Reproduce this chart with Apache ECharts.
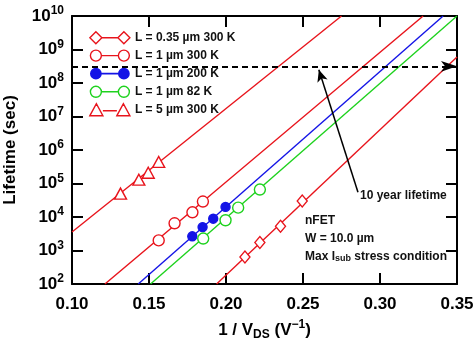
<!DOCTYPE html>
<html><head><meta charset="utf-8">
<script src="https://cdn.jsdelivr.net/npm/echarts/dist/echarts.min.js"></script>
<style>html,body{margin:0;padding:0;background:#fff}#c{width:474px;height:338px}</style>
</head><body><div id="c"></div>
<script>
// ---- data ----
const xTicks = [0.10, 0.15, 0.20, 0.25, 0.30, 0.35];
const yTickExponents = [2, 3, 4, 5, 6, 7, 8, 9, 10];
const seriesNames = ['L = 0.35 \u00b5m 300 K', 'L = 1 \u00b5m 300 K', 'L = 1 \u00b5m 200 K', 'L = 1 \u00b5m 82 K', 'L = 5 \u00b5m 300 K'];

// measured points (x = 1/VDS, y = lifetime in sec)
const x035_300 = [0.2123, 0.2220, 0.2354, 0.2495];
const y035_300 = [640, 1730, 5300, 30000];
const x1_300 = [0.1563, 0.1666, 0.1782, 0.1850];
const y1_300 = [2000, 6500, 13800, 29000];
const x1_200 = [0.1781, 0.1848, 0.1917, 0.1997];
const y1_200 = [2650, 5000, 8900, 20000];
const x1_82 = [0.1852, 0.1997, 0.2079, 0.2220];
const y1_82 = [2270, 8000, 19000, 66000];
const x5_300 = [0.1315, 0.1434, 0.1495, 0.1563];
const y5_300 = [50000, 130000, 210000, 440000];

// fitted lines: endpoints
const fitX035 = [0.1939, 0.35];   const fitY035 = [100, 6.0e8];
const fitX1_300 = [0.1214, 0.328]; const fitY1_300 = [100, 1e10];
const fitX1_200 = [0.143, 0.341];  const fitY1_200 = [100, 1e10];
const fitX1_82 = [0.151, 0.35];    const fitY1_82 = [100, 1e10];
const fitX5_300 = [0.10, 0.275];   const fitY5_300 = [3550, 1e10];

// 10-year lifetime reference and arrow
const tenYears = 3.15e8;
const arrowX = [0.2857, 0.2603];
const arrowY = [55000, 2.5e8];

// ---- chart ----
const RED = '#e8141c', BLUE = '#1414e6', GREEN = '#1ed21e';
const FONT = '"Liberation Sans", Arial, Helvetica, sans-serif';
const zip = (a, b) => a.map((v, i) => [v, b[i]]);

function scatter(name, xs, ys, symbol, size, color, filled) {
  return {
    type: 'scatter', name, data: zip(xs, ys), symbol, symbolSize: size, z: 5,
    itemStyle: { color: filled ? color : '#fff', borderColor: color, borderWidth: 1.4, opacity: 1 },
    silent: true
  };
}
function fit(name, xs, ys, color, extra) {
  return Object.assign({
    type: 'line', name, data: zip(xs, ys), showSymbol: false, symbol: 'none', z: 3,
    lineStyle: { color, width: 1.4 }, silent: true
  }, extra || {});
}

const iconDiamond = 'path://M0,6 L6,0 L12,6 L6,12 Z M12,6 L28,6 M28,6 L34,0 L40,6 L34,12 Z';
const iconCircle = 'path://M0.5,6 A5.5,5.5 0 1 1 11.5,6 A5.5,5.5 0 1 1 0.5,6 Z M11.5,6 L28.5,6 M28.5,6 A5.5,5.5 0 1 1 39.5,6 A5.5,5.5 0 1 1 28.5,6 Z M0,0 L0,0.01 M40,12 L40,12.01';
const iconDot = 'path://M1,6 A5,5 0 1 1 11,6 A5,5 0 1 1 1,6 Z M11,6 L29,6 M29,6 A5,5 0 1 1 39,6 A5,5 0 1 1 29,6 Z M0,0 L0,0.01 M40,12 L40,12.01';
const iconTri = 'path://M0,12 L6.5,0 L13,12 Z M13,7 L27,7 M27,12 L33.5,0 L40,12 Z';

const chart = echarts.init(document.getElementById('c'), null, { renderer: 'canvas' });
const axisLine = { show: true, onZero: false, lineStyle: { color: '#000', width: 2 } };
const tick = { show: true, inside: true, length: 11, lineStyle: { color: '#000', width: 2 } };

chart.setOption({
  animation: false,
  backgroundColor: '#fff',
  grid: { left: 72, right: 17, top: 16, bottom: 54, containLabel: false, outerBoundsMode: 'none' },
  xAxis: [{
    type: 'value', min: xTicks[0], max: xTicks[xTicks.length - 1], interval: 0.05,
    axisLine, axisTick: tick, splitLine: { show: false },
    axisLabel: { margin: 12, color: '#000', fontSize: 17, fontWeight: 'bold', fontFamily: FONT,
      formatter: v => v.toFixed(2) },
    name: '1 / V{sub|DS} (V{sup|\u22121})', nameLocation: 'middle', nameGap: 35,
    nameTextStyle: { color: '#000', fontSize: 17, fontWeight: 'bold', fontFamily: FONT, lineHeight: 22,
      rich: {
        sub: { fontSize: 12, fontWeight: 'bold', fontFamily: FONT, verticalAlign: 'bottom', lineHeight: 14, color: '#000' },
        sup: { fontSize: 12, fontWeight: 'bold', fontFamily: FONT, verticalAlign: 'top', lineHeight: 12, color: '#000' }
      } }
  }, {
    type: 'value', position: 'top', min: xTicks[0], max: xTicks[xTicks.length - 1], interval: 0.05,
    axisLine, axisTick: tick, axisLabel: { show: false }, splitLine: { show: false }
  }],
  yAxis: [{
    type: 'log', logBase: 10, min: Math.pow(10, yTickExponents[0]), max: Math.pow(10, yTickExponents[yTickExponents.length - 1]),
    interval: 1, axisLine, axisTick: tick, splitLine: { show: false }, minorTick: { show: false },
    axisLabel: { margin: 8, color: '#000', fontFamily: FONT,
      formatter: v => '{b|10}{s|' + Math.round(Math.log10(v)) + '}',
      rich: {
        b: { fontSize: 17, fontWeight: 'bold', fontFamily: FONT, color: '#000', lineHeight: 22 },
        s: { fontSize: 12, fontWeight: 'bold', fontFamily: FONT, color: '#000', verticalAlign: 'top', lineHeight: 12 }
      } },
    name: 'Lifetime (sec)', nameLocation: 'middle', nameGap: 53,
    nameTextStyle: { color: '#000', fontSize: 17, fontWeight: 'bold', fontFamily: FONT }
  }, {
    type: 'log', logBase: 10, position: 'right', min: Math.pow(10, yTickExponents[0]), max: Math.pow(10, yTickExponents[yTickExponents.length - 1]),
    interval: 1, axisLine, axisTick: tick, axisLabel: { show: false }, splitLine: { show: false }
  }],
  legend: {
    orient: 'vertical', left: 89, top: 31, padding: 0, itemWidth: 40, itemHeight: 12, itemGap: 4.5,
    selectedMode: false,
    textStyle: { fontSize: 12, fontWeight: 'bold', fontFamily: FONT, color: '#111', lineHeight: 12 },
    data: [
      { name: seriesNames[0], icon: iconDiamond, itemStyle: { color: '#fff', borderColor: RED, borderWidth: 1.4 } },
      { name: seriesNames[1], icon: iconCircle, itemStyle: { color: '#fff', borderColor: RED, borderWidth: 1.4 } },
      { name: seriesNames[2], icon: iconDot, itemStyle: { color: BLUE, borderColor: BLUE, borderWidth: 1.8 } },
      { name: seriesNames[3], icon: iconCircle, itemStyle: { color: '#fff', borderColor: GREEN, borderWidth: 1.4 } },
      { name: seriesNames[4], icon: iconTri, itemStyle: { color: '#fff', borderColor: RED, borderWidth: 1.4 } }
    ]
  },
  series: [
    fit(seriesNames[0], fitX035, fitY035, RED),
    fit(seriesNames[1], fitX1_300, fitY1_300, RED),
    fit(seriesNames[2], fitX1_200, fitY1_200, BLUE),
    fit(seriesNames[3], fitX1_82, fitY1_82, GREEN),
    fit(seriesNames[4], fitX5_300, fitY5_300, RED, {
      markLine: {
        silent: true, animation: false, label: { show: false },
        data: [
          { yAxis: tenYears, symbol: 'none', lineStyle: { color: '#000', width: 2, type: [6, 4] } },
          [ { coord: [arrowX[0], arrowY[0]], symbol: 'none', lineStyle: { color: '#000', width: 1.5, type: 'solid' } },
            { coord: [arrowX[1], arrowY[1]], symbol: 'arrow', symbolSize: [8, 12] } ]
        ]
      }
    }),
    scatter(seriesNames[0], x035_300, y035_300, 'diamond', [10, 12], RED, false),
    scatter(seriesNames[1], x1_300, y1_300, 'circle', 11, RED, false),
    scatter(seriesNames[2], x1_200, y1_200, 'circle', 9, BLUE, true),
    scatter(seriesNames[3], x1_82, y1_82, 'circle', 11, GREEN, false),
    scatter(seriesNames[4], x5_300, y5_300, 'triangle', [12, 11], RED, false)
  ],
  graphic: [
    { type: 'text', x: 360, y: 196, style: { text: '10 year lifetime', fill: '#111', font: 'bold 12px ' + FONT, verticalAlign: 'middle' } },
    { type: 'text', x: 305, y: 221, style: { text: 'nFET', fill: '#111', font: 'bold 12px ' + FONT, verticalAlign: 'middle' } },
    { type: 'text', x: 305, y: 239, style: { text: 'W = 10.0 \u00b5m', fill: '#111', font: 'bold 12px ' + FONT, verticalAlign: 'middle' } },
    { type: 'text', x: 305, y: 257, style: { text: 'Max I{s|sub} stress condition', fill: '#111', font: 'bold 12px ' + FONT, verticalAlign: 'middle',
      rich: { s: { fontSize: 9, fontWeight: 'bold', fontFamily: FONT, fill: '#111', verticalAlign: 'bottom', lineHeight: 10 } } } }
  ]
});
</script></body></html>
